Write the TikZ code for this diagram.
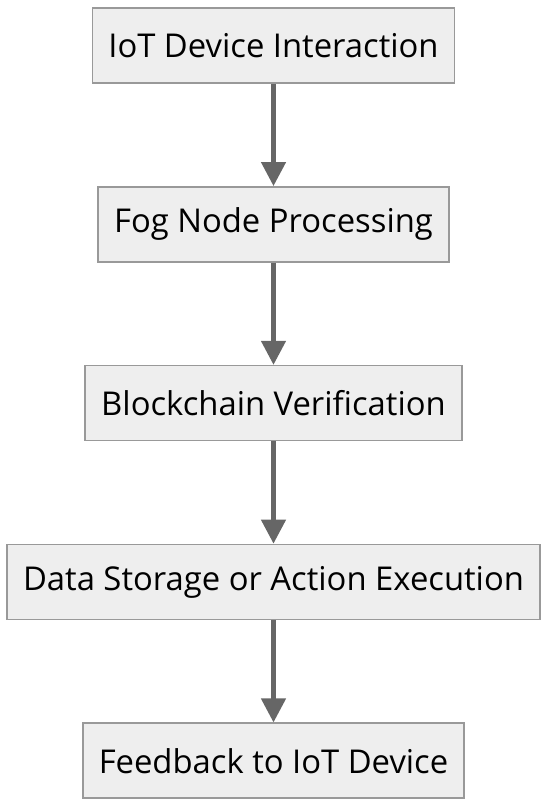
\documentclass[tikz,border=0pt]{standalone}
\usepackage{fontspec}
\setmainfont{Open Sans}
\usepackage{xcolor}
\usetikzlibrary{shapes,arrows.meta,positioning}

\definecolor{boxfill}{HTML}{EEEEEE}
\definecolor{boxline}{HTML}{999999}
\definecolor{arrowgray}{HTML}{666666}

\tikzset{
    stagebox/.style={draw=boxline, fill=boxfill, line width=1.5pt, rectangle,
        minimum height=75pt, inner xsep=16pt, font=\fontsize{32.8pt}{36pt}\selectfont},
    flowarrow/.style={draw=arrowgray, line width=4.5pt,
        -{Triangle[length=24pt,width=24pt]}}
}

\begin{document}
\begin{tikzpicture}
    \useasboundingbox (0,0) rectangle (550pt,-807pt);

    % Stages
    \node[stagebox] (iot) at (273.5pt,-45.5pt) {IoT Device Interaction};
    \node[stagebox, below=102.3pt of iot] (fog) {Fog Node Processing};
    \node[stagebox, below=102.3pt of fog] (chain) {Blockchain Verification};
    \node[stagebox, below=102.3pt of chain] (store) {Data Storage or Action Execution};
    \node[stagebox, below=102.3pt of store] (feedback) {Feedback to IoT Device};

    % Flow
    \draw[flowarrow] (iot) -- (fog);
    \draw[flowarrow] (fog) -- (chain);
    \draw[flowarrow] (chain) -- (store);
    \draw[flowarrow] (store) -- (feedback);
\end{tikzpicture}
\end{document}
